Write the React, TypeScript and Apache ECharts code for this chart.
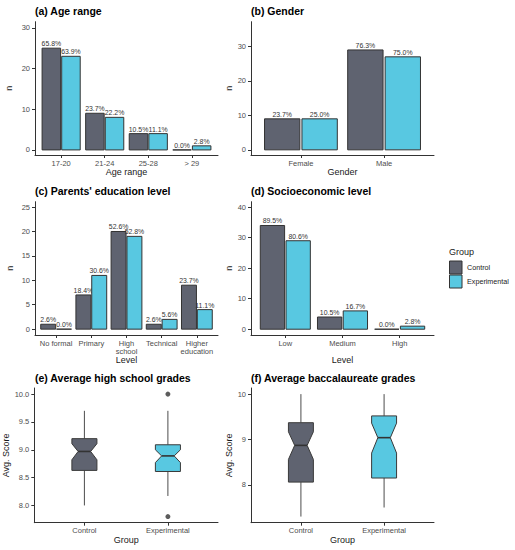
import React, { useEffect, useRef } from "react";
import * as echarts from "echarts";

const ageCategories = ["17-20", "21-24", "25-28", "> 29"];
const ageControl = [25, 9, 4, 0];
const ageExperimental = [23, 8, 4, 1];

const genderCategories = ["Female", "Male"];
const genderControl = [9, 29];
const genderExperimental = [9, 27];

const parentsCategories = ["No formal", "Primary", "High\nschool", "Technical", "Higher\neducation"];
const parentsControl = [1, 7, 20, 1, 9];
const parentsExperimental = [0, 11, 19, 2, 4];

const socioCategories = ["Low", "Medium", "High"];
const socioControl = [34, 4, 0];
const socioExperimental = [29, 6, 1];

const groupNames = ["Control", "Experimental"];

// box stats: [low whisker, Q1, median, Q3, high whisker, notch low, notch high]
const hsControl = [8.0, 8.63, 8.97, 9.2, 9.7, 8.82, 9.11];
const hsExperimental = [8.17, 8.61, 8.89, 9.09, 9.7, 8.77, 9.0];
const hsOutliersExperimental = [10.0, 7.8];

const bacControl = [7.3, 8.06, 8.87, 9.37, 10.0, 8.56, 9.17];
const bacExperimental = [7.5, 8.15, 9.04, 9.52, 10.0, 8.7, 9.36];

const FONT = "'Liberation Sans', Arial, sans-serif";
const COLORS = ["#5f6370", "#58c8e1"];
const STROKE = "#333333";
const AXIS = "#333333";
const TICKTXT = "#4d4d4d";

function range(n: number) {
  return Array.from({ length: n }, (_, i) => i + 1);
}

function xAxisFor(grid: number, cats: string[], name: string, nameGap: number, labelMargin: number) {
  const vals = range(cats.length);
  return {
    gridIndex: grid,
    type: "value",
    min: 0.4,
    max: cats.length + 0.6,
    name,
    nameLocation: "middle",
    nameGap,
    nameTextStyle: { fontSize: 9, color: "#1a1a1a", fontFamily: FONT },
    axisLine: { show: true, onZero: false, lineStyle: { color: AXIS, width: 1 } },
    axisTick: { show: true, length: 3, customValues: vals, lineStyle: { color: AXIS } },
    axisLabel: {
      customValues: vals,
      formatter: (v: number) => cats[Math.round(v) - 1] ?? "",
      fontSize: 7.5,
      lineHeight: 8,
      color: TICKTXT,
      margin: labelMargin,
      fontFamily: FONT,
    },
    splitLine: { show: false },
  };
}

function yAxisFor(grid: number, min: number, max: number, ticks: number[], name: string, nameGap: number, digits: number) {
  return {
    gridIndex: grid,
    type: "value",
    min,
    max,
    name,
    nameLocation: "middle",
    nameGap,
    nameTextStyle: { fontSize: 9, color: "#1a1a1a", fontFamily: FONT },
    axisLine: { show: true, onZero: false, lineStyle: { color: AXIS, width: 1 } },
    axisTick: { show: true, length: 3, customValues: ticks, lineStyle: { color: AXIS } },
    axisLabel: {
      customValues: ticks,
      formatter: (v: number) => v.toFixed(digits),
      fontSize: 7.5,
      color: TICKTXT,
      margin: 5,
      fontFamily: FONT,
    },
    splitLine: { show: false },
  };
}

function barSeries(axisIdx: number, values: number[], groupIdx: number) {
  const total = values.reduce((a, b) => a + b, 0);
  const sign = groupIdx === 0 ? -1 : 1;
  return {
    type: "custom",
    name: groupNames[groupIdx],
    xAxisIndex: axisIdx,
    yAxisIndex: axisIdx,
    clip: false,
    data: values.map((v, i) => [i + 1, v]),
    renderItem: (params: any, api: any) => {
      const x = api.value(0) + sign * 0.225;
      const y = api.value(1);
      const p0 = api.coord([x - 0.2125, 0]);
      const p1 = api.coord([x + 0.2125, y]);
      const pc = api.coord([x, y]);
      const item = values[params.dataIndex];
      const pct = ((item / total) * 100).toFixed(1) + "%";
      return {
        type: "group",
        children: [
          {
            type: "rect",
            shape: { x: p0[0], y: p1[1], width: p1[0] - p0[0], height: p0[1] - p1[1] },
            style: { fill: COLORS[groupIdx], stroke: STROKE, lineWidth: 1 },
          },
          {
            type: "text",
            x: pc[0],
            y: pc[1] - 1,
            style: {
              text: pct,
              fontSize: 6.9,
              fontFamily: FONT,
              fill: "#333333",
              align: "center",
              verticalAlign: "bottom",
            },
          },
        ],
      };
    },
  };
}

function boxSeries(axisIdx: number, stats: number[], xPos: number, groupIdx: number) {
  return {
    type: "custom",
    name: groupNames[groupIdx],
    xAxisIndex: axisIdx,
    yAxisIndex: axisIdx,
    clip: false,
    data: [[xPos, ...stats]],
    renderItem: (_params: any, api: any) => {
      const x = api.value(0);
      const low = api.value(1);
      const q1 = api.value(2);
      const med = api.value(3);
      const q3 = api.value(4);
      const high = api.value(5);
      const nlo = api.value(6);
      const nhi = api.value(7);
      const hw = 0.15;
      const iw = 0.075;
      const c = (xx: number, yy: number) => api.coord([xx, yy]);
      const pts = [
        c(x - hw, q3),
        c(x - hw, nhi),
        c(x - iw, med),
        c(x - hw, nlo),
        c(x - hw, q1),
        c(x + hw, q1),
        c(x + hw, nlo),
        c(x + iw, med),
        c(x + hw, nhi),
        c(x + hw, q3),
      ];
      const a = c(x, low);
      const b = c(x, q1);
      const d = c(x, q3);
      const e = c(x, high);
      const m0 = c(x - iw, med);
      const m1 = c(x + iw, med);
      return {
        type: "group",
        children: [
          { type: "line", shape: { x1: a[0], y1: a[1], x2: b[0], y2: b[1] }, style: { stroke: "#4d4d4d", lineWidth: 1 } },
          { type: "line", shape: { x1: d[0], y1: d[1], x2: e[0], y2: e[1] }, style: { stroke: "#4d4d4d", lineWidth: 1 } },
          { type: "polygon", shape: { points: pts }, style: { fill: COLORS[groupIdx], stroke: "#3a3a3a", lineWidth: 1 } },
          { type: "line", shape: { x1: m0[0], y1: m0[1], x2: m1[0], y2: m1[1] }, style: { stroke: "#333333", lineWidth: 1.6 } },
        ],
      };
    },
  };
}

export default function App() {
  const ref = useRef<HTMLDivElement>(null);
  useEffect(() => {
    if (!ref.current) return;
    const chart = echarts.init(ref.current, null, { renderer: "svg" });

    const grids = [
      { left: 35, top: 21.7, width: 183, height: 133.3 },
      { left: 251, top: 21.7, width: 183, height: 133.3 },
      { left: 35, top: 201.7, width: 183, height: 133.3 },
      { left: 251, top: 201.7, width: 183, height: 133.3 },
      { left: 34.3, top: 388, width: 183.7, height: 134.7 },
      { left: 251, top: 388, width: 183, height: 134.7 },
    ];

    const titleTexts = [
      ["(a) Age range", 35, 5],
      ["(b) Gender", 251, 5],
      ["(c) Parents' education level", 35, 184.7],
      ["(d) Socioeconomic level", 251, 184.7],
      ["(e) Average high school grades", 35, 371.7],
      ["(f) Average baccalaureate grades", 251, 371.7],
    ];

    const option: any = {
      animation: false,
      textStyle: { fontFamily: FONT },
      title: titleTexts.map(([t, l, tp]) => ({
        text: t,
        left: l,
        top: tp,
        padding: 0,
        textStyle: { fontSize: 10.5, fontWeight: "bold", color: "#000", fontFamily: FONT, lineHeight: 12 },
      })),
      grid: grids.map((g) => ({ ...g, containLabel: false })),
      xAxis: [
        xAxisFor(0, ageCategories, "Age range", 12.5, 4),
        xAxisFor(1, genderCategories, "Gender", 12.5, 4),
        xAxisFor(2, parentsCategories, "Level", 20.5, 4),
        xAxisFor(3, socioCategories, "Level", 20.5, 4),
        xAxisFor(4, groupNames, "Group", 12, 4),
        xAxisFor(5, groupNames, "Group", 12, 4),
      ],
      yAxis: [
        yAxisFor(0, -1.25, 31.5, [0, 10, 20, 30], "n", 22, 0),
        yAxisFor(1, -1.5, 37.2, [0, 10, 20, 30], "n", 14, 0),
        yAxisFor(2, -1.2, 26.1, [0, 5, 10, 15, 20, 25], "n", 21, 0),
        yAxisFor(3, -1.9, 41.8, [0, 10, 20, 30, 40], "n", 14, 0),
        yAxisFor(4, 7.69, 10.11, [8.0, 8.5, 9.0, 9.5, 10.0], "Avg. Score", 20.5, 1),
        yAxisFor(5, 7.165, 10.135, [8, 9, 10], "Avg. Score", 16, 0),
      ],
      series: [
        barSeries(0, ageControl, 0),
        barSeries(0, ageExperimental, 1),
        barSeries(1, genderControl, 0),
        barSeries(1, genderExperimental, 1),
        barSeries(2, parentsControl, 0),
        barSeries(2, parentsExperimental, 1),
        barSeries(3, socioControl, 0),
        barSeries(3, socioExperimental, 1),
        boxSeries(4, hsControl, 1, 0),
        boxSeries(4, hsExperimental, 2, 1),
        {
          type: "scatter",
          xAxisIndex: 4,
          yAxisIndex: 4,
          symbolSize: 5,
          itemStyle: { color: "#333333" },
          data: hsOutliersExperimental.map((v) => [2, v]),
        },
        boxSeries(5, bacControl, 1, 0),
        boxSeries(5, bacExperimental, 2, 1),
      ],
      graphic: [
        {
          type: "text",
          x: 449,
          y: 251.7,
          style: { text: "Group", fontSize: 9, fontFamily: FONT, fill: "#1a1a1a", verticalAlign: "middle", align: "left" },
        },
        ...groupNames.flatMap((g, i) => [
          {
            type: "rect",
            shape: { x: 449.5, y: 261 + i * 14, width: 12.5, height: 13 },
            style: { fill: COLORS[i], stroke: STROKE, lineWidth: 1 },
          },
          {
            type: "text",
            x: 467,
            y: 267.5 + i * 14,
            style: { text: g, fontSize: 7.2, fontFamily: FONT, fill: "#1a1a1a", verticalAlign: "middle", align: "left" },
          },
        ]),
      ],
    };
    chart.setOption(option);
    return () => chart.dispose();
  }, []);
  return (
    <div
      ref={ref}
      style={{ position: "fixed", left: 0, top: 0, width: 515, height: 550, background: "#fff" }}
    />
  );
}
